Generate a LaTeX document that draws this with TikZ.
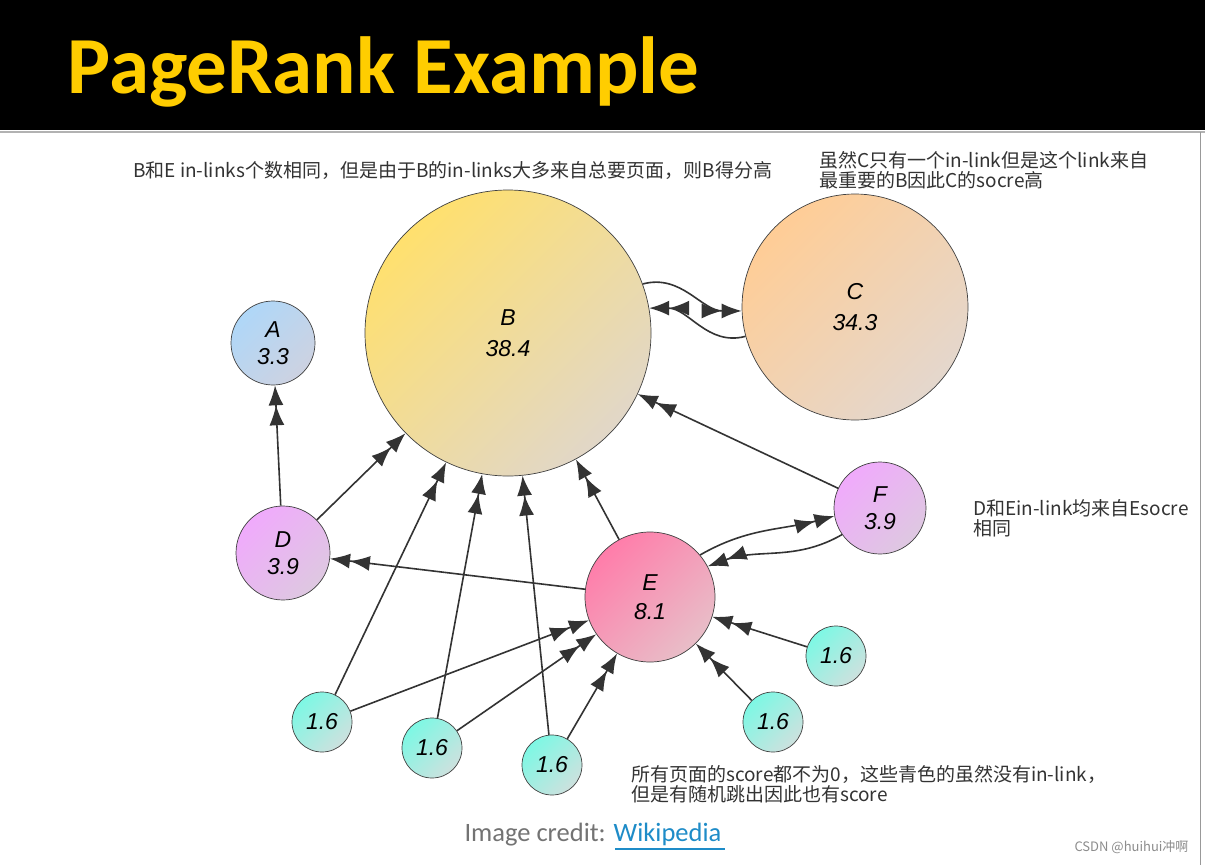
\documentclass[tikz,border=0pt]{standalone}
\usepackage{fontspec}
\setmainfont{Liberation Sans}
\newfontfamily\cjk{Noto Sans CJK SC}
\newfontfamily\carl{Carlito}
\usetikzlibrary{arrows.meta}
\definecolor{bA}{RGB}{255,224,110}\definecolor{bB}{RGB}{225,215,200}
\definecolor{cA}{RGB}{255,205,150}\definecolor{cB}{RGB}{228,215,205}
\definecolor{aA}{RGB}{175,215,248}\definecolor{aB}{RGB}{205,210,225}
\definecolor{dA}{RGB}{240,170,252}\definecolor{dB}{RGB}{222,200,225}
\definecolor{eA}{RGB}{255,125,170}\definecolor{eB}{RGB}{232,190,200}
\definecolor{gA}{RGB}{125,248,228}\definecolor{gB}{RGB}{205,225,222}
\definecolor{ttl}{RGB}{255,205,0}
\definecolor{lnk}{RGB}{30,140,200}
\begin{document}
\begin{tikzpicture}[x=1pt,y=-1pt,
  pg/.style={circle,draw=black!75,line width=0.7pt,inner sep=0pt,font=\itshape\fontsize{23}{27}\selectfont,align=center},
  sh/.style 2 args={left color=#1,right color=#2,shading angle=45},
  ar/.style={draw=black!80,line width=1.6pt,-{Latex[length=20pt,width=15pt]Latex[length=20pt,width=15pt]}},
  note/.style={font=\cjk\fontsize{19}{20}\selectfont,text=black!80,align=left,anchor=north west,inner sep=0pt}]
\useasboundingbox (0,0) rectangle (1205,865);
\fill[white] (0,0) rectangle (1205,865);
\fill[black] (0,0) rectangle (1205,130);
\draw[black!30,line width=2pt] (0,132) -- (1205,132);
\draw[black!40] (1200,132) -- (1200,865);
\node[anchor=west,text=ttl,font=\carl\bfseries\fontsize{81}{81}\selectfont] (title) at (64,72) {PageRank Example};
\node[pg,minimum size=286pt,sh={bA}{bB}] (B) at (508,333) {B\\[4pt]38.4};
\node[pg,minimum size=226pt,sh={cA}{cB}] (C) at (855,307) {C\\[4pt]34.3};
\node[pg,minimum size=84pt,sh={aA}{aB}] (A) at (273,343) {A\\3.3};
\node[pg,minimum size=94pt,sh={dA}{dB}] (D) at (283,553) {D\\3.9};
\node[pg,minimum size=92pt,sh={dA}{dB}] (F) at (880,508) {F\\3.9};
\node[pg,minimum size=130pt,sh={eA}{eB}] (E) at (650,597) {E\\[2pt]8.1};
\foreach \n/\x/\y in {G1/322/722,G2/432/748,G3/552/765,G4/773/722,G5/836/656}
  \node[pg,minimum size=60pt,sh={gA}{gB}] (\n) at (\x,\y) {1.6};
\draw[ar] (D) -- (A);
\draw[ar] (D) -- (B);
\draw[ar] (E) -- (D);
\draw[ar] (E) -- (B);
\draw[ar] (F) -- (B);
\draw[ar] (E.40) to[out=30,in=195] (F.190);
\draw[ar] (F.215) to[out=210,in=20] (E.28);
\draw[ar] (B.20) to[out=15,in=180] (C.182);
\draw[ar] (C.195) to[out=195,in=0] (B.10);
\foreach \g in {G1,G2,G3} { \draw[ar] (\g) -- (B); \draw[ar] (\g) -- (E); }
\draw[ar] (G4) -- (E);
\draw[ar] (G5) -- (E);
\node[note] (n1) at (133,161) {B和E in-links个数相同，但是由于B的in-links大多来自总要页面，则B得分高};
\node[note] (n2) at (819,151) {虽然C只有一个in-link但是这个link来自\\最重要的B因此C的socre高};
\node[note] (n3) at (973,499) {D和Ein-link均来自Esocre\\相同};
\node[note] (n4) at (631,765) {所有页面的score都不为0，这些青色的虽然没有in-link，\\但是有随机跳出因此也有score};
\node[anchor=west,font=\carl\fontsize{26.5}{26}\selectfont,text=black!55] (cr) at (461,835) {Image credit: \textcolor{lnk}{Wikipedia}};
\draw[lnk,line width=1.2pt] (615,849) -- (725,849);
\node[anchor=east,font=\cjk\fontsize{13}{13}\selectfont,text=black!45] (wm) at (1192,847) {CSDN @huihui冲啊};
\end{tikzpicture}
\end{document}
